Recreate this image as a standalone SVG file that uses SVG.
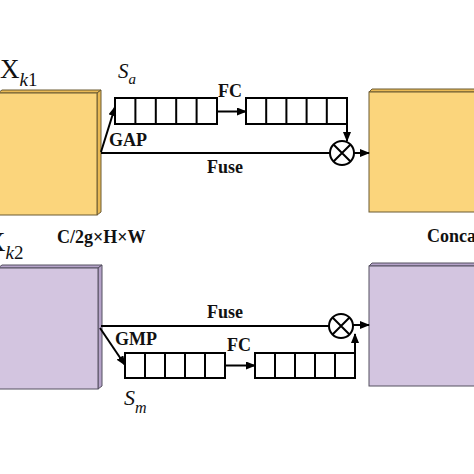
<svg xmlns="http://www.w3.org/2000/svg" width="474" height="474" viewBox="0 0 474 474">
<defs>
<marker id="ah" markerWidth="10" markerHeight="8" refX="9" refY="4" orient="auto" markerUnits="userSpaceOnUse"><path d="M0,0 L10,4 L0,8 Z" fill="#000"/></marker>
<style>
.lbl{font-family:"Liberation Serif","Times New Roman",serif;font-weight:bold;font-size:18px;fill:#111}
.math{font-family:"Liberation Serif","Times New Roman",serif;fill:#111}
.it{font-style:italic}
.ln{stroke:#000;stroke-width:2;fill:none}
.cell{stroke:#000;stroke-width:2;fill:#fff}
.yf{fill:#FBD57C;stroke:#6b5a33;stroke-width:1}
.ys{fill:#E9B954;stroke:#6b5a33;stroke-width:1}
.pf{fill:#D3C5E0;stroke:#555060;stroke-width:1}
.ps{fill:#B5A3C9;stroke:#555060;stroke-width:1}
</style>
</defs>
<rect width="474" height="474" fill="#fff"/>

<g id="box-xk1">
<polygon class="ys" points="-2,93 2,90 101,90 97,93"/>
<polygon class="ys" points="97,93 101,90 101,212 97,215"/>
<rect class="yf" x="-2" y="93" width="99" height="122"/>
</g>
<g id="box-xk2">
<polygon class="ps" points="-2,268 2,265 102,265 98,268"/>
<polygon class="ps" points="98,268 102,265 102,386 98,389"/>
<rect class="pf" x="-2" y="268" width="100" height="121"/>
</g>
<g id="box-out-top">
<polygon class="ys" points="369,92 372,89 476,89 476,92"/>
<rect class="yf" x="369" y="92" width="107" height="120"/>
</g>
<g id="box-out-bottom">
<polygon class="ps" points="369,266 372,263 476,263 476,266"/>
<rect class="pf" x="369" y="266" width="107" height="120"/>
</g>

<g id="sa">
<rect class="cell" x="115" y="98" width="102" height="26"/>
<path class="ln" d="M135.4,98V124M155.8,98V124M176.2,98V124M196.6,98V124"/>
</g>
<g id="sa-fc">
<rect class="cell" x="246" y="98" width="101" height="26"/>
<path class="ln" d="M266.2,98V124M286.4,98V124M306.6,98V124M326.8,98V124"/>
</g>
<g id="sm">
<rect class="cell" x="125" y="353" width="100" height="25"/>
<path class="ln" d="M145,353V378M165,353V378M185,353V378M205,353V378"/>
</g>
<g id="sm-fc">
<rect class="cell" x="255" y="353" width="100" height="25"/>
<path class="ln" d="M275,353V378M295,353V378M315,353V378M335,353V378"/>
</g>

<g id="mul-top">
<circle class="ln" cx="342" cy="153" r="12"/>
<path class="ln" d="M333.5,144.5L350.5,161.5M350.5,144.5L333.5,161.5"/>
</g>
<g id="mul-bottom">
<circle class="ln" cx="341" cy="326" r="12"/>
<path class="ln" d="M332.5,317.5L349.5,334.5M349.5,317.5L332.5,334.5"/>
</g>

<g id="connectors">
<line class="ln" x1="101" y1="152" x2="115" y2="107" marker-end="url(#ah)"/>
<line class="ln" x1="217" y1="111.5" x2="246" y2="111.5" marker-end="url(#ah)"/>
<line class="ln" x1="347" y1="124" x2="347" y2="141" marker-end="url(#ah)"/>
<line class="ln" x1="101" y1="153" x2="330" y2="153"/>
<line class="ln" x1="354" y1="153" x2="369" y2="153" marker-end="url(#ah)"/>

<line class="ln" x1="100" y1="328" x2="125" y2="365" marker-end="url(#ah)"/>
<line class="ln" x1="225" y1="365.5" x2="255" y2="365.5" marker-end="url(#ah)"/>
<line class="ln" x1="355" y1="378" x2="355" y2="334" marker-end="url(#ah)"/>
<line class="ln" x1="101" y1="326" x2="329" y2="326"/>
<line class="ln" x1="353" y1="325" x2="369" y2="325" marker-end="url(#ah)"/>
</g>

<g id="labels">
<text class="math" x="0" y="78" font-size="27">X<tspan class="it" font-size="19" dy="8">k</tspan><tspan font-size="19">1</tspan></text>
<text class="math" x="-14" y="251" font-size="27">X<tspan class="it" font-size="19" dy="8">k</tspan><tspan font-size="19">2</tspan></text>
<text class="math it" x="118" y="78" font-size="21">S<tspan font-size="15" dy="6">a</tspan></text>
<text class="math it" x="124" y="405" font-size="22">S<tspan font-size="16" dy="8">m</tspan></text>
<text class="lbl" x="218" y="97">FC</text>
<text class="lbl" x="109" y="146">GAP</text>
<text class="lbl" x="207" y="173">Fuse</text>
<text class="lbl" x="57" y="243">C/2g×H×W</text>
<text class="lbl" x="427" y="242">Concat</text>
<text class="lbl" x="207" y="318">Fuse</text>
<text class="lbl" x="115" y="345" font-size="17">GMP</text>
<text class="lbl" x="227" y="351">FC</text>
</g>
</svg>
